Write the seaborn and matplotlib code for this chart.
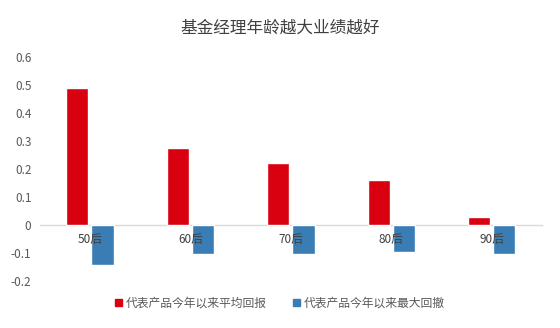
import pandas as pd
import matplotlib.pyplot as plt
import seaborn as sns

# chart data
groups = ['50后', '60后', '70后', '80后', '90后']
avg_return = [0.49, 0.275, 0.22, 0.16, 0.028]
max_drawdown = [-0.143, -0.105, -0.105, -0.097, -0.105]
series_names = ['代表产品今年以来平均回报', '代表产品今年以来最大回撤']
yticks = [-0.2, -0.1, 0, 0.1, 0.2, 0.3, 0.4, 0.5, 0.6]
ytick_labels = ['-0.2', '-0.1', '0', '0.1', '0.2', '0.3', '0.4', '0.5', '0.6']

df = pd.DataFrame({
    'group': groups * 2,
    'value': avg_return + max_drawdown,
    'series': [series_names[0]] * len(groups) + [series_names[1]] * len(groups),
})

sns.set_style('white')
plt.rcParams['font.family'] = ['Noto Sans CJK SC', 'DejaVu Sans']

fig = plt.figure(figsize=(5.6, 3.28), dpi=100)
ax = fig.add_axes([0.071, 0.143, 0.897, 0.683])

sns.barplot(data=df, x='group', y='value', hue='series',
            palette=['#D9000F', '#3A7DB5'], width=0.5, gap=0.12,
            saturation=1, ax=ax, legend=False)

ax.set_ylim(-0.2, 0.6)
ax.set_xlim(-0.5, len(groups) - 0.5)
ax.set_yticks(yticks)
ax.set_yticklabels(ytick_labels)
ax.set_xlabel('')
ax.set_ylabel('')
# category labels sit on top of the negative bars, as in the original
ax.set_axisbelow(False)

for s in ['top', 'right', 'left']:
    ax.spines[s].set_visible(False)
ax.spines['bottom'].set_position(('data', 0))
ax.spines['bottom'].set_color('#d9d9d9')
ax.spines['bottom'].set_linewidth(1)
ax.spines['bottom'].set_zorder(0.5)

ax.tick_params(axis='y', length=0, labelsize=8.5, labelcolor='#595959', pad=6)
ax.tick_params(axis='x', length=0, labelsize=8.5, labelcolor='#404040', pad=6)

fig.text(0.5, 0.915, '基金经理年龄越大业绩越好', ha='center', va='center',
         fontsize=12, color='#404040')

handles = [plt.Rectangle((0, 0), 1, 1, color=c) for c in ['#D9000F', '#3A7DB5']]
fig.legend(handles, series_names, loc='center', bbox_to_anchor=(0.5, 0.075),
           ncol=2, frameon=False, fontsize=8.5, handlelength=0.6, handleheight=0.6,
           handletextpad=0.3, columnspacing=2.2, labelcolor='#595959')

fig.savefig('out.png', dpi=100)
